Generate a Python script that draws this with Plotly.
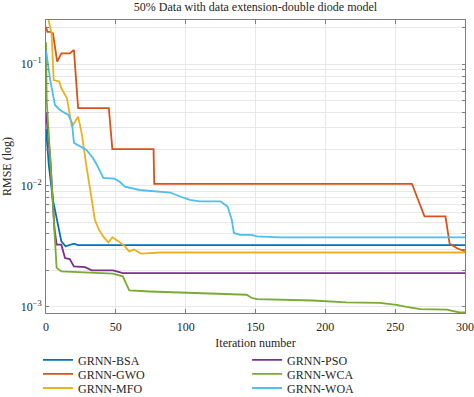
import plotly.graph_objects as go
import numpy as np

names = ["GRNN-BSA", "GRNN-GWO", "GRNN-MFO", "GRNN-PSO", "GRNN-WCA", "GRNN-WOA"]
colors = ["#0072BD", "#D95319", "#EDB120", "#7E2F8E", "#77AC30", "#4DBEEE"]

bsa_x = [0, 2, 5, 11, 14, 20, 23, 300]
bsa_y = [0.0294, 0.0148, 0.0076, 0.00347, 0.00316, 0.00332, 0.00323, 0.00323]

gwo_x = [0, 1, 3, 5, 8, 11, 17, 20, 23, 45, 47.5, 77, 77.5, 262, 271, 286, 289, 294, 300]
gwo_y = [0.204, 0.185, 0.185, 0.18, 0.105, 0.123, 0.123, 0.131, 0.0435, 0.0435, 0.02, 0.02,
         0.01035, 0.01035, 0.00557, 0.00557, 0.00332, 0.00306, 0.00287]

mfo_x = [0, 1.5, 4, 5.5, 9.5, 11, 15, 17, 18.5, 23, 25.5, 29, 32.7, 35, 38, 41, 44.6, 47.5,
         52, 56.5, 59.5, 63, 68, 82, 300]
mfo_y = [0.42, 0.24, 0.18, 0.074, 0.072, 0.0634, 0.0525, 0.0383, 0.0306, 0.037, 0.0272, 0.01436,
         0.00764, 0.00523, 0.0043, 0.00381, 0.0034, 0.00376, 0.00347, 0.00316, 0.00287, 0.00297,
         0.00275, 0.00281, 0.00281]

pso_x = [0, 3, 6, 7.6, 11, 13.6, 17, 20, 28, 32.7, 48, 55, 300]
pso_y = [0.04, 0.017, 0.0045, 0.00326, 0.00326, 0.00253, 0.00248, 0.00216, 0.00213, 0.002,
         0.002, 0.0019, 0.0019]

wca_x = [0, 0.5, 3, 5, 6.4, 7.6, 11, 26.7, 48, 55, 57, 59.6, 74.5, 96, 110, 127, 143.7, 147,
         151, 191, 215, 239, 251, 258, 268, 287, 296, 300]
wca_y = [0.152, 0.05, 0.017, 0.0075, 0.0038, 0.0021, 0.00196, 0.00193, 0.00188, 0.00179,
         0.00158, 0.00137, 0.00134, 0.00132, 0.0013, 0.00129, 0.00126, 0.00119, 0.00116,
         0.00113, 0.00109, 0.00108, 0.00104, 0.001, 0.00096, 0.00095, 0.0009, 0.0009]

woa_x = [0, 3, 6.4, 10, 16, 18.6, 20, 25.8, 29, 33.6, 36.5, 41, 49, 53, 56.5, 67, 79, 89, 96,
         103, 110, 125, 130, 133, 134.5, 139, 147, 151, 167.5, 300]
woa_y = [0.131, 0.0743, 0.0462, 0.042, 0.0383, 0.0329, 0.0225, 0.0208, 0.0197, 0.0169, 0.0148,
         0.0116, 0.0114, 0.0107, 0.0098, 0.0092, 0.0089, 0.00877, 0.00813, 0.00764, 0.0074,
         0.0074, 0.00673, 0.00523, 0.00407, 0.00393, 0.00393, 0.00381, 0.00374, 0.00374]

x_ticks = [0, 50, 100, 150, 200, 250, 300]
y_decades = [-3, -2, -1]
y_decade_text = ["10<sup>−3</sup>", "10<sup>−2</sup>", "10<sup>−1</sup>"]

series = [(bsa_x, bsa_y), (gwo_x, gwo_y), (mfo_x, mfo_y), (pso_x, pso_y), (wca_x, wca_y), (woa_x, woa_y)]

FONT = "Liberation Serif"
fig = go.Figure()
legend_ids = ["legend", "legend2", "legend3", "legend4", "legend5", "legend6"]
for i, ((xs, ys), n, c) in enumerate(zip(series, names, colors)):
    fig.add_trace(go.Scatter(x=xs, y=ys, mode="lines", name=n,
                             line=dict(color=c, width=1.8), legend=legend_ids[i]))

# y tick values: all 1..9 x 10^k, labels only at decades
tickvals = []
ticktext = []
for k in [-4, -3, -2, -1]:
    for d in range(1, 10):
        v = d * 10.0 ** k
        if 10 ** -3.05 <= v <= 10 ** -0.635:
            tickvals.append(v)
            if d == 1 and k in y_decades:
                ticktext.append(y_decade_text[y_decades.index(k)])
            else:
                ticktext.append("")

axis_color = "#7f7f7f"
grid_color = "#e8e8e8"

fig.update_layout(
    width=474, height=397,
    margin=dict(l=46, r=9, t=20, b=84, autoexpand=False),
    paper_bgcolor="white", plot_bgcolor="white",
    font=dict(family=FONT, size=12, color="#262626"),
    title=dict(text="50% Data with data extension-double diode model", x=0.5, xanchor="center",
               xref="paper", yref="container", y=0.983, yanchor="middle",
               font=dict(family=FONT, size=12, color="#262626")),
    xaxis=dict(range=[0, 300], tickvals=x_ticks, showgrid=True, gridcolor=grid_color,
               ticks="inside", ticklen=4, tickcolor=axis_color, showline=True, linecolor=axis_color,
               linewidth=1, mirror="allticks", zeroline=False, ticklabelstandoff=3, automargin=False,
               title=dict(text="Iteration number", standoff=5, font=dict(family=FONT, size=12)),
               tickfont=dict(family=FONT, size=12)),
    yaxis=dict(type="log", range=[-3.05, -0.635], tickvals=tickvals, ticktext=ticktext,
               showgrid=True, gridcolor=grid_color, ticks="inside", ticklen=3,
               tickcolor=axis_color, showline=True, linecolor=axis_color, linewidth=1,
               mirror="allticks", zeroline=False, ticklabelstandoff=1, automargin=False,
               title=dict(text="RMSE (log)", standoff=6, font=dict(family=FONT, size=12)),
               tickfont=dict(family=FONT, size=12)),
    showlegend=True,
)

leg_x = [-0.019, -0.019, -0.019, 0.48, 0.48, 0.48]
leg_y = [-0.160, -0.208, -0.256, -0.160, -0.208, -0.256]
for lid, lx, ly in zip(legend_ids, leg_x, leg_y):
    fig.update_layout({lid: dict(x=lx, y=ly, xanchor="left", yanchor="middle",
                                 bgcolor="rgba(0,0,0,0)", font=dict(family=FONT, size=12, color="#262626"),
                                 itemwidth=30)})

fig.write_html("out.html", config={"displayModeBar": False},
               post_script="document.body.style.margin='0';document.body.style.overflow='hidden';")
